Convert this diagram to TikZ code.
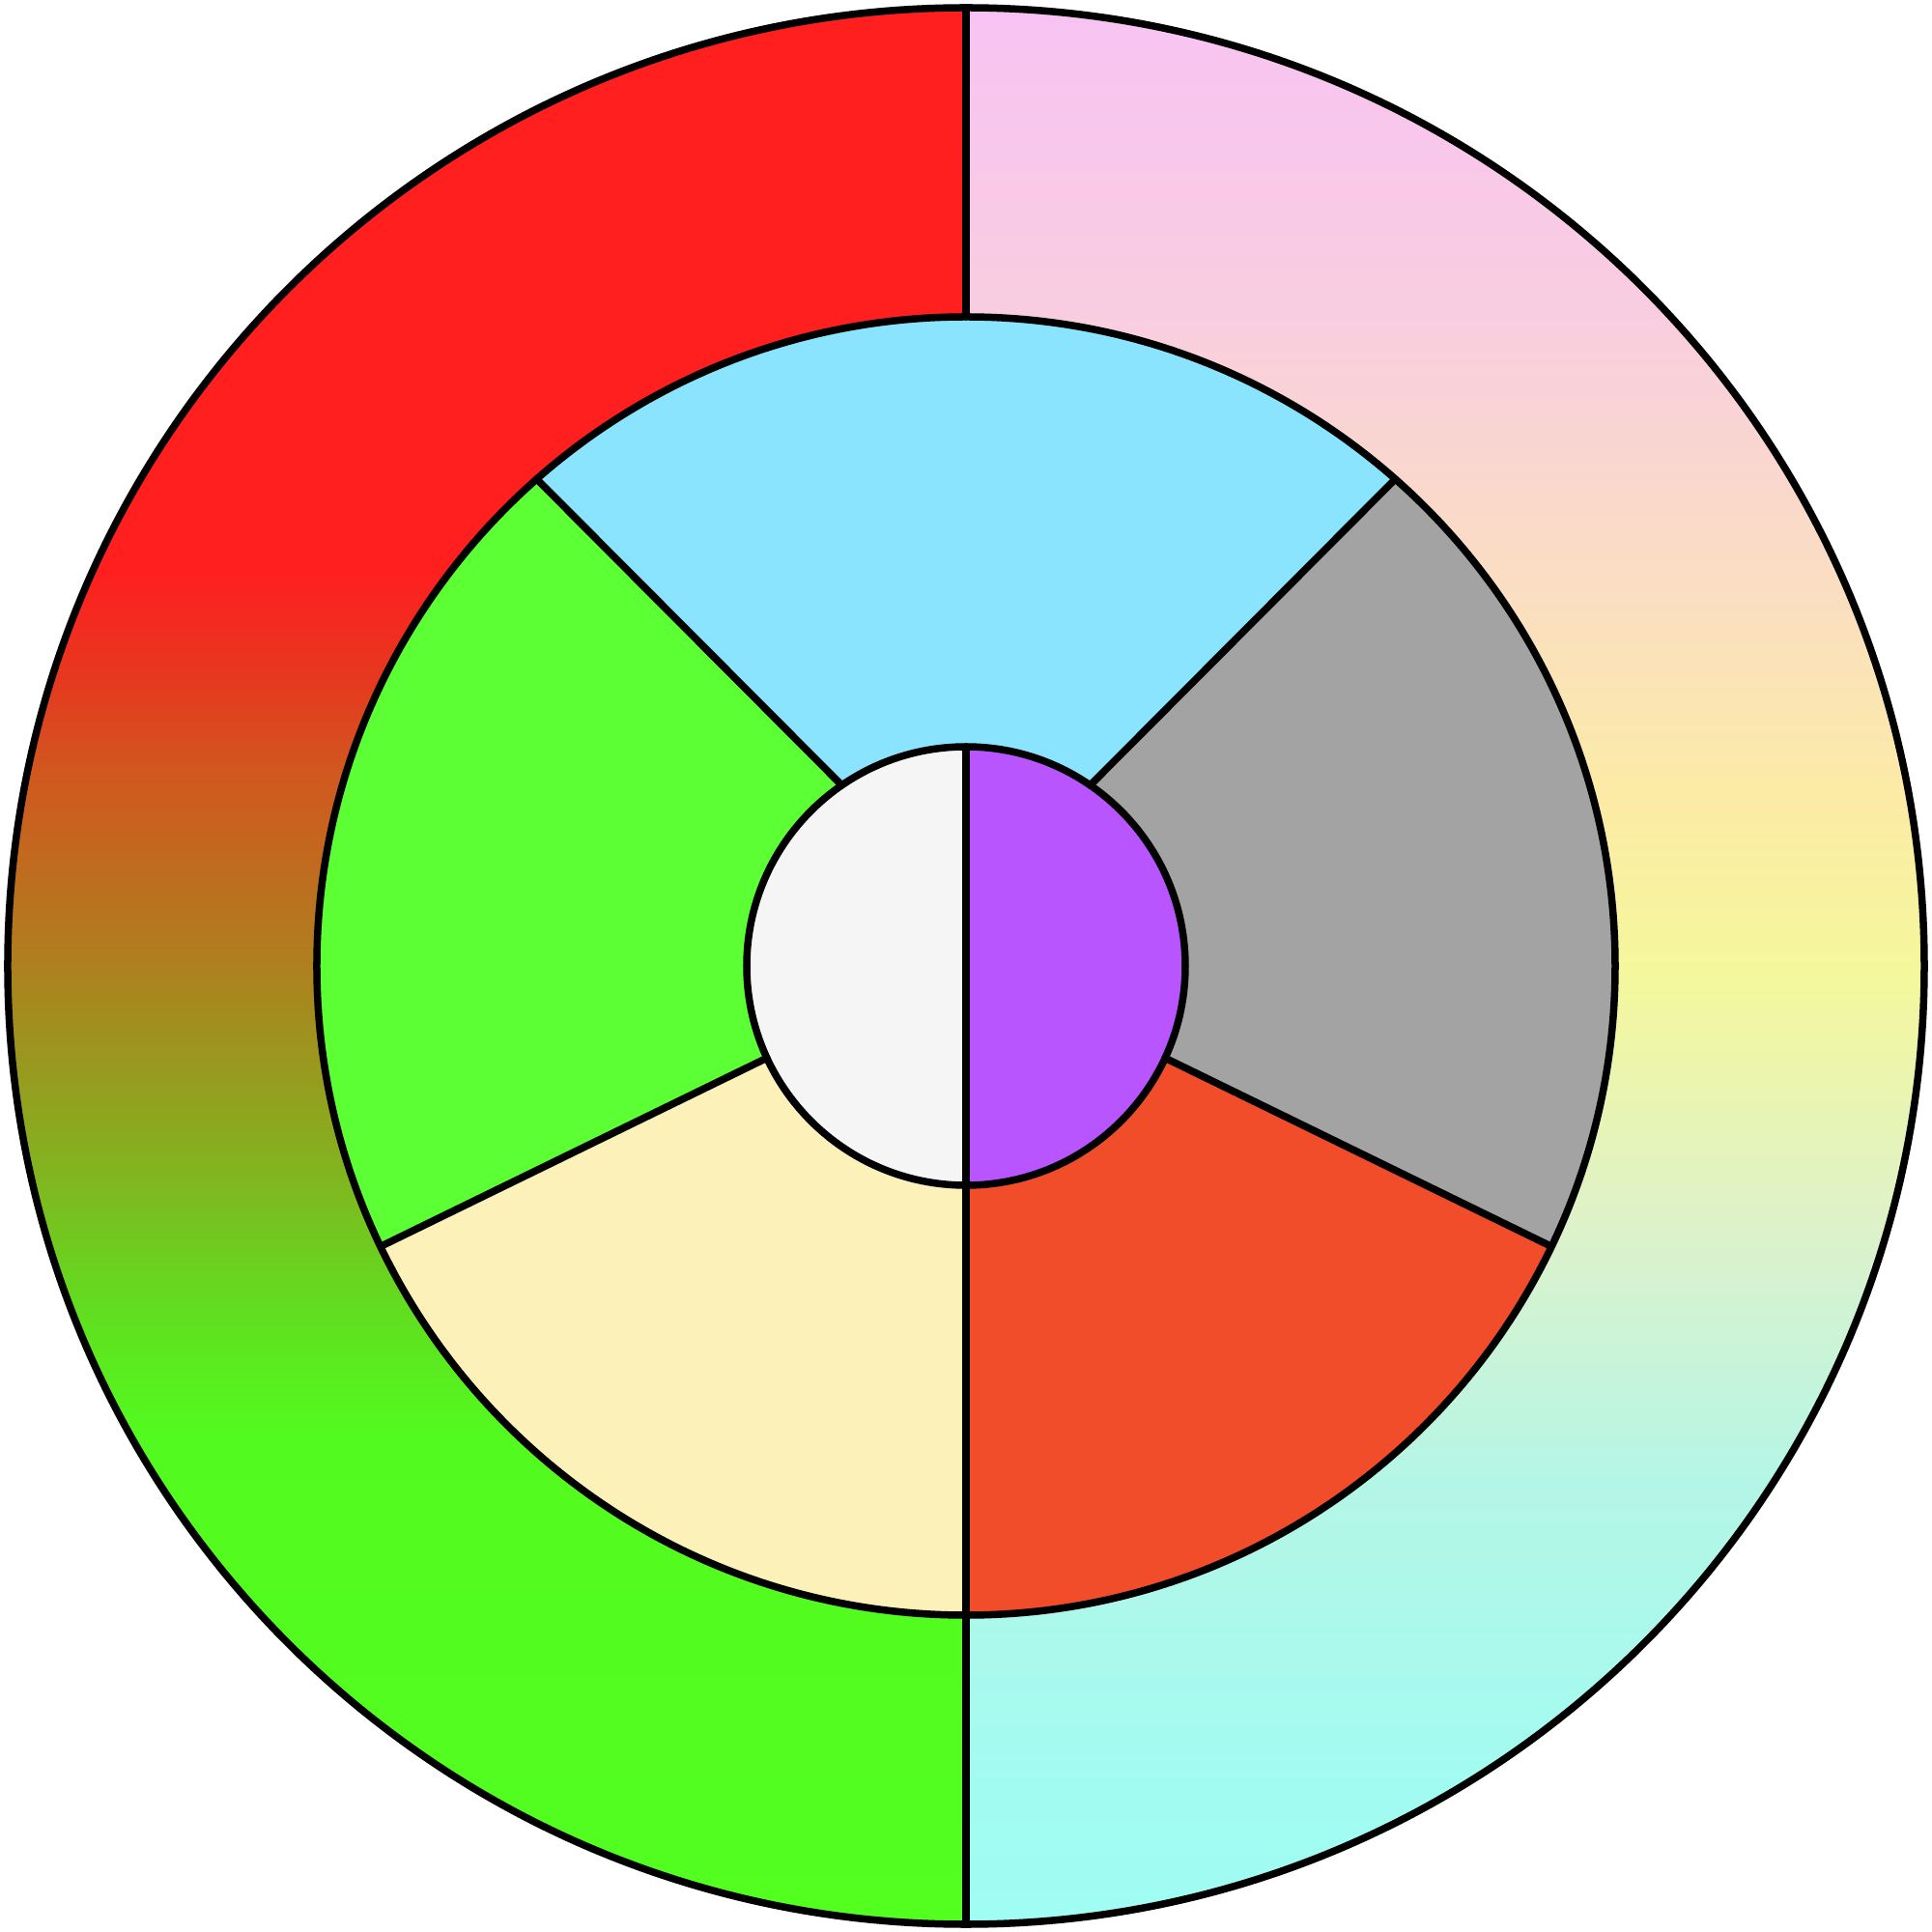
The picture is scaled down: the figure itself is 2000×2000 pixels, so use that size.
\documentclass[tikz,border=0pt]{standalone}
\usetikzlibrary{calc}
\definecolor{ringred}{HTML}{FF1F1F}
\definecolor{lA}{HTML}{52FF1F}
\definecolor{lB}{HTML}{53FA1F}
\definecolor{lC}{HTML}{62DC1F}
\definecolor{lD}{HTML}{85B01F}
\definecolor{lE}{HTML}{AE801F}
\definecolor{lF}{HTML}{D0581F}
\definecolor{lG}{HTML}{E6381F}
\definecolor{rA}{HTML}{9FFDF3}
\definecolor{rB}{HTML}{A2FBF1}
\definecolor{rC}{HTML}{B4F6E6}
\definecolor{rD}{HTML}{DDF2CA}
\definecolor{rE}{HTML}{F4F79C}
\definecolor{rF}{HTML}{FCEBA5}
\definecolor{rG}{HTML}{FAE0BE}
\definecolor{rH}{HTML}{F9CDE0}
\definecolor{rI}{HTML}{F8C3F3}
\definecolor{segblue}{HTML}{8AE4FD}
\definecolor{seggreen}{HTML}{5BFF33}
\definecolor{segyellow}{HTML}{FCF1B9}
\definecolor{segorange}{HTML}{F24D2B}
\definecolor{seggray}{HTML}{A3A3A3}
\definecolor{coreleft}{HTML}{F5F5F5}
\definecolor{coreright}{HTML}{B855FE}
\pgfdeclareverticalshading{leftring}{100bp}{color(0bp)=(lA); color(25bp)=(lA); color(37.9bp)=(lB); color(41.2bp)=(lC); color(45bp)=(lD); color(50bp)=(lE); color(55bp)=(lF); color(57.5bp)=(lG); color(60.3bp)=(ringred); color(100bp)=(ringred)}
\pgfdeclareverticalshading{rightring}{100bp}{color(0bp)=(rA); color(25bp)=(rA); color(28.6bp)=(rB); color(36.6bp)=(rC); color(43.1bp)=(rD); color(49.8bp)=(rE); color(54.3bp)=(rF); color(59.1bp)=(rG); color(67.1bp)=(rH); color(75bp)=(rI); color(100bp)=(rI)}
\tikzset{
  rim/.style={draw=black, line width=0.75mm},
  sep/.style={draw=black, line width=0.75mm, line cap=round},
}
\begin{document}
\begin{tikzpicture}[x=0.01cm, y=0.01cm]
\fill[white] (-1000,-1000) rectangle (1000,1000);
\useasboundingbox (-1000,-1000) rectangle (1000,1000);
\def\Ro{992}
\def\Rm{672}
\def\Ri{227}
% named points
\coordinate (O) at (0,0);
\coordinate (A1) at (55.5:\Ri);  \coordinate (B1) at (48.6:\Rm);
\coordinate (A2) at (124.5:\Ri); \coordinate (B2) at (131.4:\Rm);
\coordinate (A3) at (204.8:\Ri); \coordinate (B3) at (205.6:\Rm);
\coordinate (A4) at (-24.8:\Ri); \coordinate (B4) at (-25.6:\Rm);
\coordinate (A5) at (270:\Ri);   \coordinate (B5) at (270:\Rm);
\coordinate (T0) at (90:\Ri);
\coordinate (Tm) at (90:\Rm);    \coordinate (To) at (90:\Ro);
\coordinate (Bo) at (270:\Ro);
% outer ring halves
\shade[shading=leftring] (90:\Ro) arc[start angle=90, end angle=270, radius=\Ro]
  -- (270:\Rm) arc[start angle=270, end angle=90, radius=\Rm] -- cycle;
\shade[shading=rightring] (90:\Ro) arc[start angle=90, end angle=-90, radius=\Ro]
  -- (-90:\Rm) arc[start angle=-90, end angle=90, radius=\Rm] -- cycle;
% middle ring segments
\fill[segblue] (B1) arc[start angle=48.6, end angle=131.4, radius=\Rm] -- (A2)
  arc[start angle=124.5, end angle=55.5, radius=\Ri] -- cycle;
\fill[seggreen] (B2) arc[start angle=131.4, end angle=205.6, radius=\Rm] -- (A3)
  arc[start angle=204.8, end angle=124.5, radius=\Ri] -- cycle;
\fill[segyellow] (B3) arc[start angle=205.6, end angle=270, radius=\Rm] -- (A5)
  arc[start angle=270, end angle=204.8, radius=\Ri] -- cycle;
\fill[segorange] (B5) arc[start angle=270, end angle=334.4, radius=\Rm] -- (A4)
  arc[start angle=335.2, end angle=270, radius=\Ri] -- cycle;
\fill[seggray] (B4) arc[start angle=-25.6, end angle=48.6, radius=\Rm] -- (A1)
  arc[start angle=55.5, end angle=-24.8, radius=\Ri] -- cycle;
% core halves
\fill[coreleft] (90:\Ri) arc[start angle=90, end angle=270, radius=\Ri] -- cycle;
\fill[coreright] (90:\Ri) arc[start angle=90, end angle=-90, radius=\Ri] -- cycle;
% separators
\draw[sep] (A1) -- (B1);
\draw[sep] (A2) -- (B2);
\draw[sep] (A3) -- (B3);
\draw[sep] (A4) -- (B4);
\draw[sep] (T0) -- (A5);
\draw[sep] (A5) -- (B5);
\draw[sep] (Tm) -- (To);
\draw[sep] (B5) -- (Bo);
% circles
\draw[rim] (O) circle[radius=\Ro];
\draw[rim] (O) circle[radius=\Rm];
\draw[rim] (O) circle[radius=\Ri];
\end{tikzpicture}
\end{document}
